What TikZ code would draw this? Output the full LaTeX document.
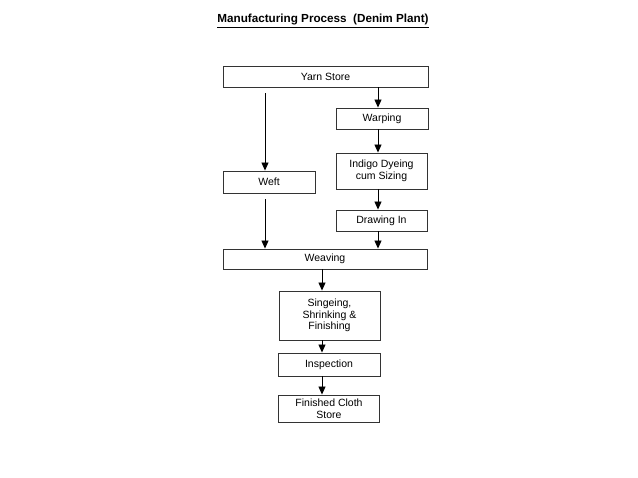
\documentclass[tikz,border=0pt]{standalone}
\usepackage{fontspec}
\setmainfont{Liberation Sans}
\usetikzlibrary{arrows.meta}

\begin{document}
\begin{tikzpicture}[x=1pt,y=-1pt,
  stage/.style={draw=black!80, line width=0.9pt, inner sep=0pt, align=center,
    font=\fontsize{10.5}{11.5}\selectfont},
  flow/.style={line width=0.9pt, -{Triangle[length=8pt,width=7pt]}}]
  \useasboundingbox (0,0) rectangle (638,478);

  \node (title) at (323,21) {\fontsize{11.7}{14}\selectfont\bfseries\underline{Manufacturing Process\ \ (Denim Plant)}};

  % columns the arrows run in
  \coordinate (lcol) at (265,0);
  \coordinate (rcol) at (378,0);
  \coordinate (ccol) at (322,0);

  \node[stage, minimum width=205pt, minimum height=21pt] (yarn) at (325.5,76.5) {Yarn Store};
  \node[stage, minimum width=92pt, minimum height=21pt] (warp) at (382,118.5) {Warping};
  \node[stage, minimum width=91pt, minimum height=36pt] (indigo) at (381.5,171) {Indigo Dyeing\\cum Sizing};
  \node[stage, minimum width=91pt, minimum height=21pt] (drawin) at (381.5,220.5) {Drawing In};
  \node[stage, minimum width=92pt, minimum height=22pt] (weft) at (269,182) {Weft};
  \node[stage, minimum width=204pt, minimum height=20pt] (weave) at (325,259) {Weaving};
  \node[stage, minimum width=101pt, minimum height=49pt] (singe) at (329.5,315.5) {Singeing,\\Shrinking \&\\Finishing};
  \node[stage, minimum width=102pt, minimum height=23pt] (insp) at (329,364.5) {Inspection};
  \node[stage, minimum width=101pt, minimum height=27pt] (fin) at (329,408.5) {Finished Cloth\\Store};

  \draw[flow, shorten <=6pt] (yarn.south -| lcol) -- (weft.north -| lcol);
  \draw[flow, shorten <=6pt] (weft.south -| lcol) -- (weave.north -| lcol);
  \draw[flow] (yarn.south -| rcol) -- (warp.north -| rcol);
  \draw[flow] (warp.south -| rcol) -- (indigo.north -| rcol);
  \draw[flow] (indigo.south -| rcol) -- (drawin.north -| rcol);
  \draw[flow] (drawin.south -| rcol) -- (weave.north -| rcol);
  \draw[flow] (weave.south -| ccol) -- (singe.north -| ccol);
  \draw[flow] (singe.south -| ccol) -- (insp.north -| ccol);
  \draw[flow] (insp.south -| ccol) -- (fin.north -| ccol);

\end{tikzpicture}
\end{document}
